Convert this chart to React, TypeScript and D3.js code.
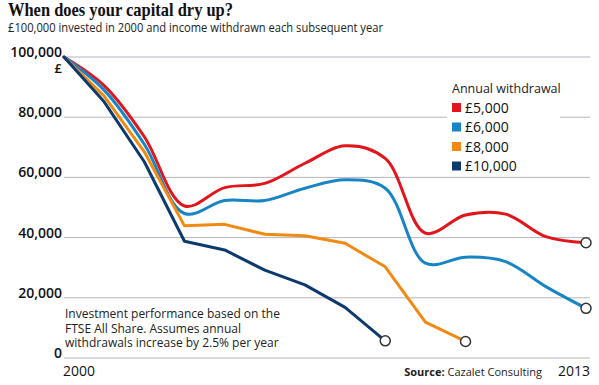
import React from 'react'
import { scaleLinear, line, curveCatmullRom, curveLinear } from 'd3'

const years = [2000, 2001, 2002, 2003, 2004, 2005, 2006, 2007, 2008, 2009, 2010, 2011, 2012, 2013]
const w5000 = [100000, 90500, 73500, 50500, 56600, 58000, 64700, 70500, 66300, 41500, 47500, 47800, 40300, 38300]
const w6000 = [100000, 89000, 71000, 48000, 52300, 52300, 56400, 59200, 56400, 31500, 33500, 32000, 23700, 16500]
const w8000 = [100000, 87000, 68500, 43900, 44400, 41100, 40600, 38100, 30300, 11900, 5500]
const w10000 = [100000, 85100, 65200, 38800, 35900, 29200, 24300, 16800, 5700]
const yTicks = [0, 20000, 40000, 60000, 80000, 100000]
const legendLabels = ['£5,000', '£6,000', '£8,000', '£10,000']
const noteLines = [
  'Investment performance based on the',
  'FTSE All Share. Assumes annual',
  'withdrawals increase by 2.5% per year',
]

const colors = ['#e2141c', '#1784c6', '#f18a12', '#0c3a6e']
const font = '"Open Sans", Arial, sans-serif'

export default function App() {
  const x = scaleLinear().domain([2000, 2013]).range([64, 586])
  const y = scaleLinear().domain([0, 100000]).range([358, 57])

  const series = [
    { values: w5000, curve: curveCatmullRom.alpha(0.5) },
    { values: w6000, curve: curveCatmullRom.alpha(0.5) },
    { values: w8000, curve: curveLinear },
    { values: w10000, curve: curveLinear },
  ]

  return (
    <svg
      width={599}
      height={385}
      style={{ position: 'absolute', left: 0, top: 0, background: '#fff' }}
    >
      <text
        x={8}
        y={16}
        fontFamily='"Liberation Serif", "DejaVu Serif", serif'
        fontWeight="bold"
        fontSize={19}
        textLength={225}
        lengthAdjust="spacingAndGlyphs"
        fill="#111"
      >
        When does your capital dry up?
      </text>
      <text
        x={8}
        y={32}
        fontFamily={font}
        fontSize={13}
        textLength={375}
        lengthAdjust="spacingAndGlyphs"
        fill="#222"
      >
        £100,000 invested in 2000 and income withdrawn each subsequent year
      </text>

      {/* grid + y labels */}
      {yTicks.map((t) => (
        <g key={t}>
          <line x1={64} x2={590} y1={y(t)} y2={y(t)} stroke="#b4b4bc" strokeWidth={1} />
          <text
            x={62}
            y={y(t)}
            textAnchor="end"
            fontFamily={font}
            fontSize={14}
            fontWeight={600}
            fill="#111"
          >
            {t === 0 ? '0' : t.toLocaleString('en-GB')}
          </text>
        </g>
      ))}
      <text x={62} y={73} textAnchor="end" fontFamily={font} fontSize={13} fontWeight={600} fill="#111">
        £
      </text>

      {/* legend */}
      <rect x={447} y={80} width={113} height={94} fill="#fff" />
      <text x={452} y={93} fontFamily={font} fontSize={12.5} fill="#222">
        Annual withdrawal
      </text>
      {legendLabels.map((l, i) => (
        <g key={l}>
          <rect x={452} y={103 + i * 19.5} width={9} height={9} fill={colors[i]} />
          <text x={465} y={112.5 + i * 19.5} fontFamily={font} fontSize={14} fill="#111">
            {l}
          </text>
        </g>
      ))}

      {/* lines */}
      {series.map((s, i) => {
        const gen = line<number>()
          .x((d, j) => x(years[j]))
          .y((d) => y(d))
          .curve(s.curve)
        return (
          <path
            key={i}
            d={gen(s.values) || ''}
            fill="none"
            stroke={colors[i]}
            strokeWidth={3}
            strokeLinejoin="round"
            strokeLinecap="round"
          />
        )
      })}
      {series.map((s, i) => {
        const last = s.values.length - 1
        return (
          <circle
            key={i}
            cx={x(years[last])}
            cy={y(s.values[last])}
            r={5}
            fill="#fff"
            stroke="#333"
            strokeWidth={1.5}
          />
        )
      })}

      {/* note */}
      {noteLines.map((l, i) => (
        <text key={i} x={65} y={318 + i * 14.5} fontFamily={font} fontSize={12} fill="#222">
          {l}
        </text>
      ))}

      {/* x labels */}
      <text x={63} y={376} fontFamily={font} fontSize={14} fill="#111">
        {years[0]}
      </text>
      <text x={590} y={376} textAnchor="end" fontFamily={font} fontSize={14} fill="#111">
        {years[years.length - 1]}
      </text>
      <text x={542} y={376} textAnchor="end" fontFamily={font} fontSize={11} fill="#222">
        <tspan fontWeight="bold">Source:</tspan> Cazalet Consulting
      </text>
    </svg>
  )
}
